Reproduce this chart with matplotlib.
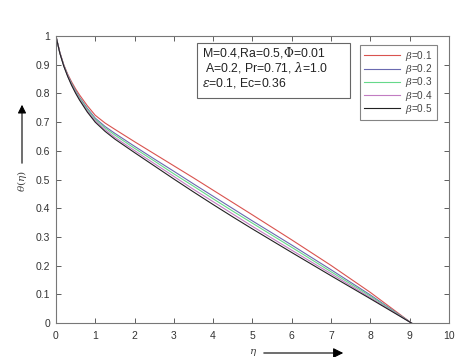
import matplotlib
matplotlib.use("Agg")
import matplotlib.pyplot as plt
from matplotlib.patches import Rectangle, FancyArrowPatch

plt.rcParams['font.family'] = ['Liberation Sans', 'DejaVu Sans']
plt.rcParams['mathtext.fontset'] = 'dejavuserif'

eta = [0, 0.1, 0.2, 0.3, 0.4, 0.5, 0.6, 0.8, 1.0, 1.25, 1.5, 2.0, 2.5, 3.0, 3.5, 4.0, 4.5, 5.0, 6.0, 7.0, 8.0, 9.05]
theta_b01 = [1, .943, .900, .867, .840, .816, .795, .757, .724, .697, .675, .632, .590, .548, .506, .463, .420, .377, .290, .201, .107, 0]
theta_b02 = [1, .942, .898, .864, .835, .810, .787, .748, .714, .685, .661, .616, .572, .529, .485, .442, .399, .356, .272, .186, .098, 0]
theta_b03 = [1, .941, .897, .862, .833, .807, .784, .744, .710, .680, .655, .609, .565, .520, .477, .433, .390, .348, .264, .179, .094, 0]
theta_b04 = [1, .941, .896, .861, .830, .804, .780, .739, .705, .674, .647, .601, .556, .511, .466, .423, .380, .337, .254, .172, .089, 0]
theta_b05 = [1, .940, .895, .859, .828, .801, .777, .735, .700, .668, .641, .594, .548, .502, .457, .413, .370, .328, .246, .165, .085, 0]
series = [theta_b01, theta_b02, theta_b03, theta_b04, theta_b05]
labels = [r'$\beta$=0.1', r'$\beta$=0.2', r'$\beta$=0.3', r'$\beta$=0.4', r'$\beta$=0.5']
colors = ['#d9534f', '#6a6ab0', '#66d98a', '#c27cc2', '#222222']

xticks = list(range(0, 11))
yticks = [0, 0.1, 0.2, 0.3, 0.4, 0.5, 0.6, 0.7, 0.8, 0.9, 1]
yticklabels = ['0', '0.1', '0.2', '0.3', '0.4', '0.5', '0.6', '0.7', '0.8', '0.9', '1']
info_lines = ['M=0.4,Ra=0.5,$\\Phi$=0.01', ' A=0.2, Pr=0.71, $\\lambda$=1.0', '$\\epsilon$=0.1, Ec=0.36']

fig = plt.figure(figsize=(4.74, 3.57), dpi=100)
ax = fig.add_axes([0.118, 0.095, 0.829, 0.804])
for y, lab, c in zip(series, labels, colors):
    ax.plot(eta, y, color=c, lw=0.8, label=lab)

ax.set_xlim(0, 10)
ax.set_ylim(0, 1)
ax.set_xticks(xticks)
ax.set_yticks(yticks)
ax.set_yticklabels(yticklabels)
ax.tick_params(direction='in', top=True, right=True, length=3.5, width=0.6,
               labelsize=7.5, colors='#444444', labelcolor='#333333')
ax.tick_params(axis='x', pad=6)
ax.tick_params(axis='y', pad=4)
for s in ax.spines.values():
    s.set_color('#777777')
    s.set_linewidth(0.8)

leg = ax.legend(loc='upper right', bbox_to_anchor=(0.969, 0.969), fontsize=7.2,
                frameon=True, fancybox=False, edgecolor='#666666',
                handlelength=3.6, labelspacing=-0.08, borderpad=0.4,
                handletextpad=0.5, borderaxespad=0)
leg.get_frame().set_linewidth(0.8)
for t in leg.get_texts():
    t.set_color('#444444')

# info box
ax.add_patch(Rectangle((0.359, 0.784), 0.389, 0.192, transform=ax.transAxes,
                       fc='white', ec='#666666', lw=0.8, zorder=4))
for yy, line in zip([0.941, 0.889, 0.836], info_lines):
    ax.text(0.372, yy, line, transform=ax.transAxes, fontsize=8.8, va='center',
            ha='left', color='#222222', zorder=5)

# axis labels with arrows
fig.text(22 / 474, 1 - 181 / 357, r'$\theta(\eta)$', rotation=90, ha='center', va='center',
         fontsize=7.5, color='#444444')
fig.add_artist(FancyArrowPatch(
    (22 / 474, 1 - 166 / 357), (22 / 474, 1 - 102 / 357), transform=fig.transFigure,
    arrowstyle='-|>,head_length=5,head_width=2.5', color='black', lw=0.8))
fig.text(253 / 474, 1 - 353 / 357, r'$\eta$', ha='center', va='center', fontsize=7.5,
         color='#444444')
fig.add_artist(FancyArrowPatch(
    (261 / 474, 1 - 353 / 357), (346 / 474, 1 - 353 / 357), transform=fig.transFigure,
    arrowstyle='-|>,head_length=6,head_width=3', color='black', lw=0.8))

fig.savefig('out.png', dpi=100)
